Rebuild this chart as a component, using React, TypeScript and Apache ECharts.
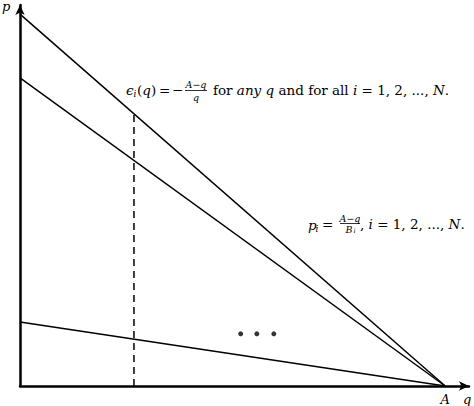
import React, { useEffect, useRef } from "react";
import * as echarts from "echarts";

// demand curves p_i = (A - q) / B_i, one intercept per firm
const A = 10;
const Q_MAX = 10.56;
const P_MAX = 10;
const intercepts = [9.76, 8.09, 1.68];
// the vertical dashed line at a given q
const dashQ = 2.68;
// the "..." between the curves
const dotsQ = [5.19, 5.57, 5.97];
const dotsP = [1.37, 1.37, 1.37];

const SERIF = '"DejaVu Serif", "Liberation Serif", serif';
const it = (size: number) => `italic ${size}px ${SERIF}`;
const rm = (size: number) => `${size}px ${SERIF}`;

const txt = (x: number, y: number, text: string, font: string, align = "left") => ({
  type: "text",
  x,
  y,
  silent: true,
  style: { text, font, fill: "#000", align, verticalAlign: "middle" },
});

const richTxt = (x: number, y: number, text: string, size: number) => ({
  type: "text",
  x,
  y,
  silent: true,
  style: {
    text,
    font: rm(size),
    fill: "#000",
    align: "left",
    verticalAlign: "middle",
    rich: { i: { font: it(size), fill: "#000" } },
  },
});

const bar = (x1: number, x2: number, y: number) => ({
  type: "line",
  silent: true,
  shape: { x1, y1: y, x2, y2: y },
  style: { stroke: "#000", lineWidth: 0.8 },
});

const App = () => {
  const chartRef = useRef<HTMLDivElement | null>(null);

  useEffect(() => {
    if (!chartRef.current) return;
    const myChart = echarts.init(chartRef.current, null, { renderer: "svg" });

    const axisLine = {
      show: true,
      symbol: ["none", "arrow"],
      symbolSize: [7, 10],
      lineStyle: { color: "#000", width: 2.5 },
    };

    const option = {
      animation: false,
      backgroundColor: "#fff",
      grid: { left: 20, right: 5, top: 5, bottom: 19 },
      xAxis: {
        type: "value",
        min: 0,
        max: Q_MAX,
        interval: A,
        axisLine,
        axisTick: { show: false },
        splitLine: { show: false },
        axisLabel: {
          formatter: (v: number) => (v === A ? "A" : ""),
          color: "#000",
          fontFamily: SERIF,
          fontStyle: "italic",
          fontSize: 13,
          margin: 7,
        },
      },
      yAxis: {
        type: "value",
        min: 0,
        max: P_MAX,
        axisLine,
        axisTick: { show: false },
        splitLine: { show: false },
        axisLabel: { show: false },
      },
      series: [
        ...intercepts.map((b) => ({
          type: "line",
          symbol: "none",
          data: [
            [0, b],
            [A, 0],
          ],
          lineStyle: { color: "#000", width: 1.5 },
        })),
        {
          type: "line",
          symbol: "none",
          data: [
            [dashQ, 0],
            [dashQ, intercepts[0] * (1 - dashQ / A)],
          ],
          lineStyle: { color: "#000", width: 1.5, type: [7, 5] },
        },
        {
          type: "scatter",
          symbolSize: 5,
          itemStyle: { color: "#000" },
          data: dotsQ.map((q, i) => [q, dotsP[i]]),
        },
      ],
      graphic: [
        txt(2, 6, "p", it(13)),
        txt(463, 399, "q", it(13)),
        // elasticity label
        txt(126, 90, "ϵ", it(13.5)),
        txt(133.5, 94, "i", it(9)),
        richTxt(137, 90, "({i|q})", 13.5),
        txt(159, 90, "=", rm(13.5)),
        txt(172, 90, "−", rm(13.5)),
        txt(196, 84.5, "A−q", it(9.5), "center"),
        bar(185, 207, 90.5),
        txt(196, 97, "q", it(9.5), "center"),
        richTxt(213, 90, "for {i|any q} and for all {i|i} = 1, 2, ..., {i|N}.", 13.5),
        // demand label
        txt(308, 225, "p", it(13.5)),
        txt(315.5, 229, "i", it(9)),
        txt(322, 224, "=", rm(13.5)),
        txt(350, 218, "A−q", it(9.5), "center"),
        bar(340, 360, 223.5),
        txt(349, 229, "B", it(9.5), "center"),
        txt(353.5, 231, "i", it(6.5)),
        richTxt(360, 224, ", {i|i} = 1, 2, ..., {i|N}.", 13.5),
      ],
    };

    myChart.setOption(option);

    return () => {
      myChart.dispose();
    };
  }, []);

  return (
    <div
      ref={chartRef}
      style={{ position: "fixed", left: 0, top: 0, width: "474px", height: "406px" }}
    ></div>
  );
};

export default App;
